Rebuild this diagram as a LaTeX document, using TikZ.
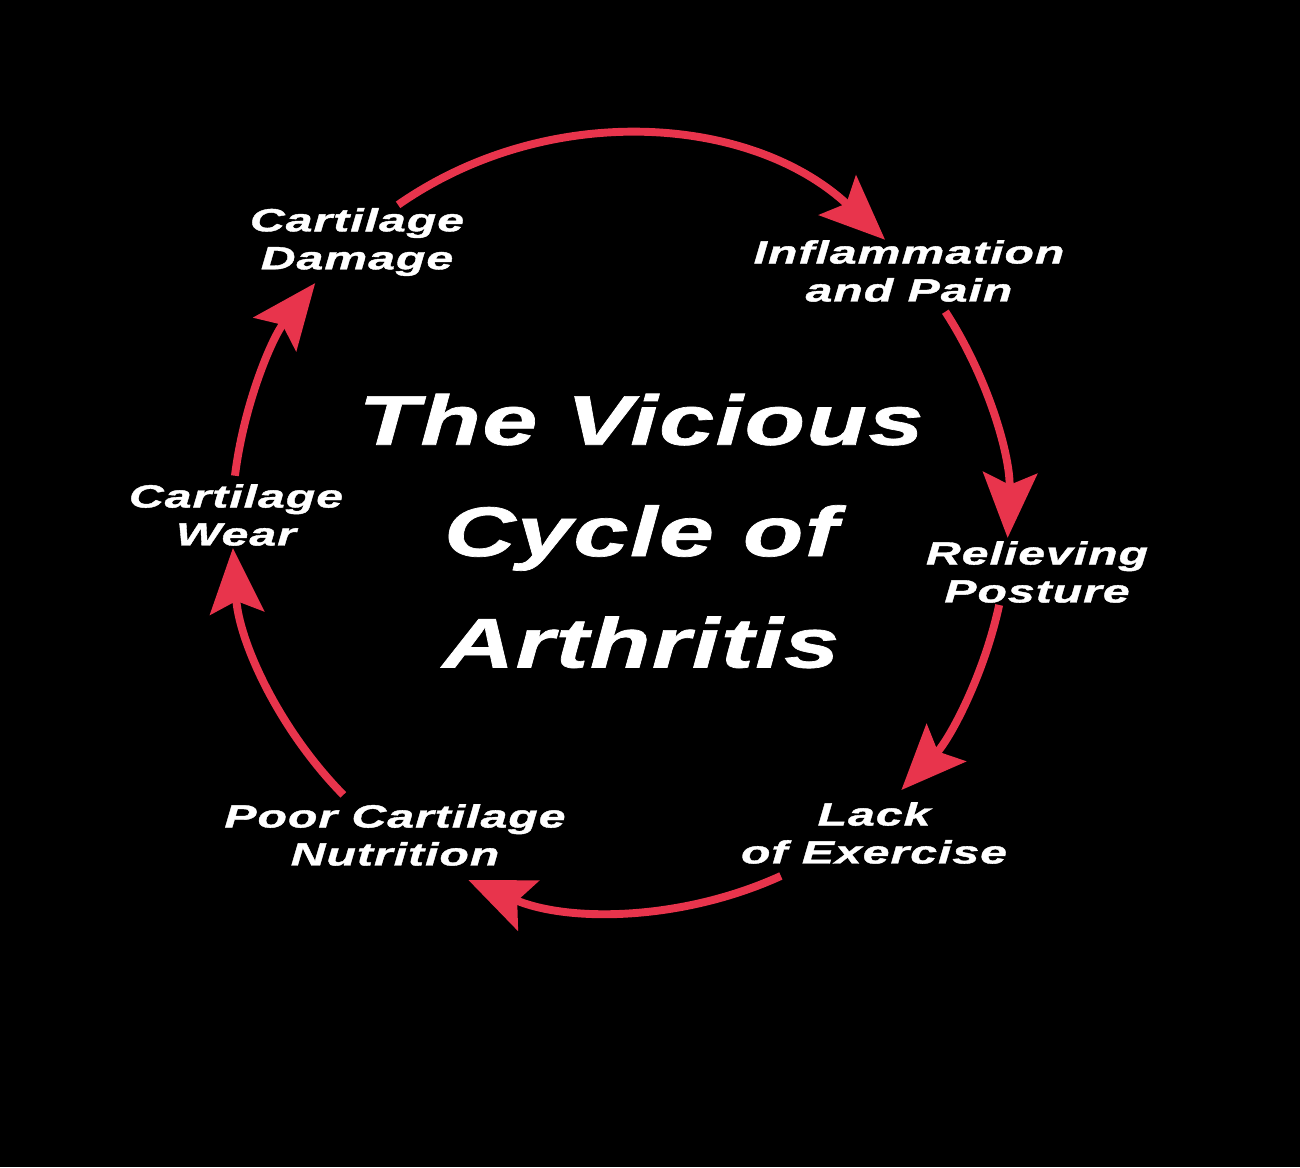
\documentclass[tikz,border=0pt]{standalone}
\usepackage{fontspec}
\usetikzlibrary{arrows.meta}
\newfontfamily\lblfont{Liberation Sans}[FakeStretch=1.5,LetterSpace=3,FakeBold=1.2]
\newfontfamily\ttlfont{Liberation Sans}[FakeStretch=1.41,LetterSpace=2,FakeBold=1]
\definecolor{cycred}{RGB}{232,52,76}
\tikzset{
  cyc/.style={draw=cycred, line width=4.5pt,
    -{Stealth[length=1.3cm, width=1.08cm, inset=0.24cm, fill=cycred]}},
  lbl/.style={text=white, align=center, inner sep=0pt,
    font=\lblfont\bfseries\itshape\fontsize{18.3}{21.6}\selectfont},
  ttl/.style={text=white, align=center, inner sep=0pt,
    font=\ttlfont\bfseries\itshape\fontsize{40}{63.4}\selectfont}
}
\begin{document}
\begin{tikzpicture}[x=0.02cm,y=0.02cm]
\fill[black] (0,0) rectangle (1300,1167);
\useasboundingbox (0,0) rectangle (1300,1167);
\coordinate (C) at (620,644);

% labels
\node[ttl] (title) at (641,636) {The Vicious\\Cycle of\\Arthritis};
\node[lbl] (dmg)  at (357,925) {Cartilage\\Damage};
\node[lbl] (inf)  at (909,896) {Inflammation\\and Pain};
\node[lbl] (rel)  at (1037,595) {Relieving\\Posture};
\node[lbl] (lack) at (874,334) {Lack\\of Exercise};
\node[lbl] (poor) at (395,332) {Poor Cartilage\\Nutrition};
\node[lbl] (wear) at (236,652) {Cartilage\\Wear};

% arc end points on the circle
\path (C) ++(124.9:7.76cm) coordinate (s1);
\path (C) ++(33:7.76cm)    coordinate (s2);
\path (C) ++(-12.2:7.76cm) coordinate (s3);
\path (C) ++(-65.5:7.76cm) coordinate (s4);
\path (C) ++(-135.5:7.76cm) coordinate (s5);
\path (C) ++(173:7.76cm)   coordinate (s6);

\draw[cyc] (s1) arc[start angle=124.9, end angle=46.9, radius=7.76cm];
\draw[cyc] (s2) arc[start angle=33, end angle=-2.2, radius=7.76cm];
\draw[cyc] (s3) arc[start angle=-12.2, end angle=-43.5, radius=7.76cm];
\draw[cyc] (s4) arc[start angle=-65.5, end angle=-113, radius=7.76cm];
\draw[cyc] (s5) arc[start angle=-135.5, end angle=-176.3, radius=7.76cm];
\draw[cyc] (s6) arc[start angle=173, end angle=141.8, radius=7.76cm];
\end{tikzpicture}
\end{document}
